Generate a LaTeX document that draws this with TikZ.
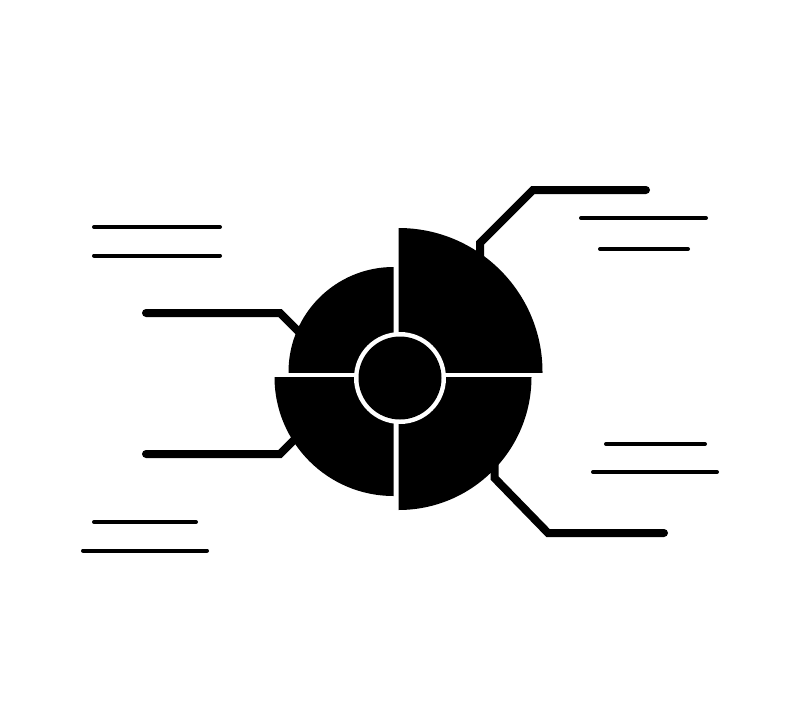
\documentclass[tikz,border=0pt]{standalone}
\begin{document}
\begin{tikzpicture}[x=1pt,y=-1pt,
  conn/.style={line width=8pt, line cap=round, line join=miter},
  txt/.style={line width=4pt, line cap=round},
  sector/.style={fill=black}]
\fill[white] (0,0) rectangle (800,712);
\useasboundingbox (0,0) rectangle (800,712);
% connector points
\coordinate (tr0) at (480,262);
\coordinate (tr1) at (480,243);
\coordinate (tr2) at (533,190);
\coordinate (tr3) at (646,190);
\coordinate (br0) at (494.5,460);
\coordinate (br1) at (494.5,478);
\coordinate (br2) at (548,533);
\coordinate (br3) at (664,533);
\coordinate (tl0) at (302,335);
\coordinate (tl1) at (280,313);
\coordinate (tl2) at (146,313);
\coordinate (bl0) at (302,432);
\coordinate (bl1) at (280,454);
\coordinate (bl2) at (146,454);
\draw[conn] (tr0) -- (tr1) -- (tr2) -- (tr3);
\draw[conn] (br0) -- (br1) -- (br2) -- (br3);
\draw[conn] (tl0) -- (tl1) -- (tl2);
\draw[conn] (bl0) -- (bl1) -- (bl2);
% text placeholder lines
\draw[txt] (94,227) -- (220,227);
\draw[txt] (94,255.5) -- (220,255.5);
\draw[txt] (581,218) -- (706,218);
\draw[txt] (600,249) -- (688,249);
\draw[txt] (606,444) -- (705,444);
\draw[txt] (593,472) -- (717,472);
\draw[txt] (94,522) -- (196,522);
\draw[txt] (83,550.5) -- (207,550.5);
% quadrants
\begin{scope}\clip (393.5,372) rectangle (200,200); \fill[sector] (393.5,372) circle[radius=105pt]; \end{scope}
\begin{scope}\clip (398.5,372) rectangle (600,200); \fill[sector] (398.5,372) circle[radius=144pt]; \end{scope}
\begin{scope}\clip (393.5,377) rectangle (200,560); \fill[sector] (393.5,377) circle[radius=119pt]; \end{scope}
\begin{scope}\clip (398.5,377) rectangle (600,560); \fill[sector] (398.5,377) circle[radius=133pt]; \end{scope}
% centre disc
\fill[white] (400,378) circle[radius=46pt];
\fill[black] (400,378) circle[radius=41.5pt];
\end{tikzpicture}
\end{document}
